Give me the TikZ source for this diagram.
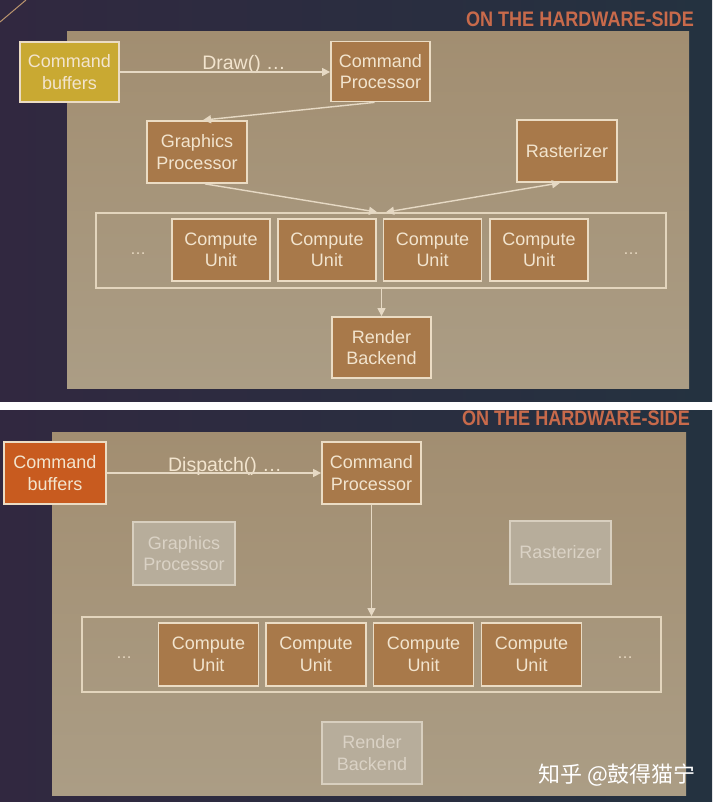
\documentclass[tikz,border=0pt]{standalone}
\usepackage{fontspec}
\setmainfont{Liberation Sans}
\newfontfamily\cjkfont{Noto Sans CJK SC}
\usetikzlibrary{arrows.meta,calc}
\definecolor{bgL}{HTML}{312840}
\definecolor{bgR}{HTML}{243240}
\definecolor{tanT}{HTML}{A28E71}
\definecolor{tanB}{HTML}{AB9D85}
\definecolor{boxfill}{HTML}{A8794A}
\definecolor{boxline}{HTML}{EBDCC4}
\definecolor{boxtext}{HTML}{F2E4CE}
\definecolor{fadefill}{HTML}{B7AD9B}
\definecolor{fadeline}{HTML}{D8CFBF}
\definecolor{fadetext}{HTML}{DAD2C5}
\definecolor{yellowbox}{HTML}{C9A932}
\definecolor{orangebox}{HTML}{C85B1F}
\definecolor{titlec}{HTML}{C86A4B}
\definecolor{arrowc}{HTML}{E6D9C4}
\definecolor{contline}{HTML}{E3D5BD}
\tikzset{
  box/.style={draw=boxline, line width=1.8pt, fill=boxfill, text=boxtext, align=center,
    inner sep=0pt, font=\fontsize{18}{21.5}\selectfont, minimum width=99pt, minimum height=61pt},
  fadedbox/.style={box, fill=fadefill, draw=fadeline, text=fadetext},
  contbox/.style={draw=contline, line width=1.8pt, inner sep=0pt},
  arr/.style={draw=arrowc, line width=1.4pt, -{Triangle[length=8pt,width=8pt]}},
  lbl/.style={text=boxtext, font=\fontsize{19.5}{21}\selectfont, inner sep=0pt},
  dots/.style={text=boxtext!90!tanT, font=\fontsize{16}{16}\selectfont, inner sep=0pt},
  titlelbl/.style={text=titlec, font=\fontsize{21}{21}\selectfont\bfseries, inner sep=0pt, anchor=east}
}
\begin{document}
\begin{tikzpicture}[x=1pt,y=-1pt]
\useasboundingbox (0,0) rectangle (712,808);
\fill[white] (0,0) rectangle (712,808);
% ---------- top panel ----------
\shade[left color=bgL,right color=bgR] (0,0) rectangle (712,401);
\draw[color=boxfill!80!white, line width=1pt] (0,22) -- (26,0);
\shade[top color=tanT,bottom color=tanB] (67,32) rectangle (689,388);
\node[titlelbl] (t1) at (694,19) {\scalebox{0.86}[1]{ON THE HARDWARE-SIDE}};

\node[box, fill=yellowbox, minimum width=99pt, minimum height=60pt] (cb1) at (69.5,72) {Command\\buffers};
\node[box, minimum height=60pt] (cp1) at (380.5,71.5) {Command\\Processor};
\node[lbl] (dl1) at (244,64) {Draw() \dots};
\node[box, minimum width=100pt, minimum height=62pt] (gp1) at (197,152) {Graphics\\Processor};
\node[box, minimum width=100pt, minimum height=62pt] (ra1) at (567,151) {Rasterizer};
\node[contbox, minimum width=570pt, minimum height=75pt] (ct1) at (381,250.5) {};
\node[box, minimum width=98pt, minimum height=62pt] (cu1a) at (221,250) {Compute\\Unit};
\node[box, minimum width=98pt, minimum height=62pt] (cu1b) at (327,250) {Compute\\Unit};
\node[box, minimum width=98pt, minimum height=62pt] (cu1c) at (432.5,250) {Compute\\Unit};
\node[box, minimum width=98pt, minimum height=62pt] (cu1d) at (539,250) {Compute\\Unit};
\node[dots] (d1a) at (138,254) {\dots};
\node[dots] (d1b) at (631,254) {\dots};
\node[box, minimum height=61pt] (rb1) at (381.5,347.5) {Render\\Backend};

\draw[arr] (cb1.east) -- (cb1.east -| cp1.west);
\draw[arr] ($(cp1.south)+(-6,0)$) -- ($(gp1.north)+(6,0)$);
\draw[arr] ($(gp1.south)+(8,0)$) -- ($(ct1.north)+(-4,0)$);
\draw[arr, {Triangle[length=8pt,width=8pt]}-{Triangle[length=8pt,width=8pt]}] ($(ct1.north)+(5,0)$) -- ($(ra1.south)+(-7,0)$);
\draw[arr] (ct1.south -| rb1.north) -- (rb1.north);

% ---------- bottom panel ----------
\shade[left color=bgL,right color=bgR] (0,410) rectangle (712,801);
\shade[top color=tanT,bottom color=tanB] (52,432) rectangle (686,795);
\node[titlelbl] (t2) at (690,418) {\scalebox{0.86}[1]{ON THE HARDWARE-SIDE}};

\node[box, fill=orangebox, minimum width=102pt, minimum height=62pt] (cb2) at (55,473) {Command\\buffers};
\node[box, minimum height=62pt] (cp2) at (371.5,473) {Command\\Processor};
\node[lbl] (dl2) at (225,466) {Dispatch() \dots};
\node[fadedbox, minimum width=102pt, minimum height=63pt] (gp2) at (184,553.5) {Graphics\\Processor};
\node[fadedbox, minimum width=101pt, minimum height=63pt] (ra2) at (560.5,552.5) {Rasterizer};
\node[contbox, minimum width=579pt, minimum height=75pt] (ct2) at (371.5,654.5) {};
\node[box, minimum width=100pt, minimum height=63pt] (cu2a) at (208.5,654.5) {Compute\\Unit};
\node[box, minimum width=100pt, minimum height=63pt] (cu2b) at (316,654.5) {Compute\\Unit};
\node[box, minimum width=100pt, minimum height=63pt] (cu2c) at (423.5,654.5) {Compute\\Unit};
\node[box, minimum width=100pt, minimum height=63pt] (cu2d) at (531.5,654.5) {Compute\\Unit};
\node[dots] (d2a) at (124,658) {\dots};
\node[dots] (d2b) at (625,658) {\dots};
\node[fadedbox, minimum width=100pt, minimum height=62pt] (rb2) at (372,753) {Render\\Backend};

\draw[arr] (cb2.east) -- (cb2.east -| cp2.west);
\draw[arr] (cp2.south) -- (cp2.south |- ct2.north);

\node[text=white, font=\cjkfont\fontsize{22}{22}\selectfont, inner sep=0pt] (wm) at (617,775) {知乎 @鼓得猫宁};
\end{tikzpicture}
\end{document}
